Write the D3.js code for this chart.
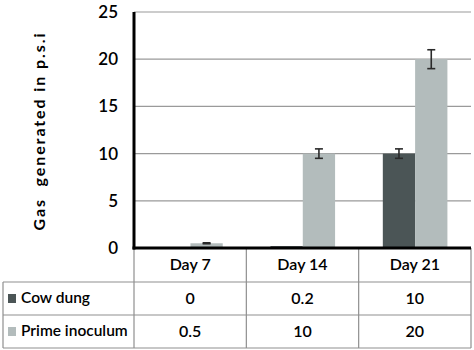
<!DOCTYPE html>
<html>
<head>
<meta charset="utf-8">
<script src="https://cdn.jsdelivr.net/npm/d3@7"></script>
<style>
  html, body { margin: 0; padding: 0; background: #fff; }
  svg { display: block; }
  text { font-family: Lato, "Open Sans", sans-serif; fill: #000; }
</style>
</head>
<body>
<svg id="chart" width="474" height="350"></svg>
<script>
// Gas generated per sampling day, two inocula
const days = ["Day 7", "Day 14", "Day 21"];
const seriesNames = ["Cow dung", "Prime inoculum"];
const cowDung = [0, 0.2, 10];
const primeInoculum = [0.5, 10, 20];
const cowDungErr = [0, 0.05, 0.5];
const primeInoculumErr = [0.05, 0.5, 1];
const yTicks = [0, 5, 10, 15, 20, 25];
const yTitle = "Gas  generated in p.s.i";

const colors = { "Cow dung": "#4b5556", "Prime inoculum": "#b3bcbc" };

const svg = d3.select("#chart");

const plotLeft = 134, plotRight = 471, plotTop = 12, plotBase = 248;
const rowH = [248, 282, 315, 348];
const tableLeft = 3;
const cellFont = "16px";

const x = d3.scaleBand().domain(days).range([plotLeft, plotRight]).padding(0);
const x1 = d3.scaleBand().domain(seriesNames)
  .range([x.bandwidth() * 0.215, x.bandwidth() * 0.79]).padding(0);
const y = d3.scaleLinear().domain([0, 25]).range([plotBase, plotTop]);

// horizontal gridlines
svg.append("g")
  .selectAll("line")
  .data(yTicks.filter(d => d > 0))
  .join("line")
  .attr("x1", plotLeft).attr("x2", plotRight)
  .attr("y1", d => y(d)).attr("y2", d => y(d))
  .attr("stroke", "#9a9a9a").attr("stroke-width", 1.2);

// y tick labels
const yAxis = d3.axisLeft(y).tickValues(yTicks).tickSize(0).tickPadding(16);
const gy = svg.append("g").attr("transform", `translate(${plotLeft},0)`).call(yAxis);
gy.select(".domain").remove();
gy.selectAll("text")
  .style("font-family", "Lato, sans-serif")
  .style("font-size", "17px")
  .style("font-weight", "600")
  .attr("fill", "#000");

// bars
const rows = seriesNames.map((name, i) => ({
  name,
  values: i === 0 ? cowDung : primeInoculum,
  errs: i === 0 ? cowDungErr : primeInoculumErr
}));

const barData = [];
rows.forEach(r => days.forEach((d, j) => barData.push({
  series: r.name, day: d, value: r.values[j], err: r.errs[j]
})));

svg.append("g")
  .selectAll("rect")
  .data(barData)
  .join("rect")
  .attr("x", d => x(d.day) + x1(d.series))
  .attr("width", x1.bandwidth())
  .attr("y", d => y(d.value))
  .attr("height", d => plotBase - y(d.value))
  .attr("fill", d => colors[d.series]);

// error bars
const eg = svg.append("g").attr("stroke", "#2a2a2a").attr("stroke-width", 1.6);
barData.filter(d => d.value > 0.3).forEach(d => {
  const cx = x(d.day) + x1(d.series) + x1.bandwidth() / 2;
  const y0 = y(d.value + d.err), y1v = y(d.value - d.err);
  eg.append("line").attr("x1", cx).attr("x2", cx).attr("y1", y0).attr("y2", y1v);
  eg.append("line").attr("x1", cx - 4).attr("x2", cx + 4).attr("y1", y0).attr("y2", y0);
  eg.append("line").attr("x1", cx - 4).attr("x2", cx + 4).attr("y1", y1v).attr("y2", y1v);
});

// data table grid
const tg = svg.append("g").attr("stroke", "#8f8f8f").attr("stroke-width", 1.2).attr("fill", "none");
[rowH[1], rowH[2], rowH[3]].forEach(yy => {
  tg.append("line").attr("x1", tableLeft).attr("x2", plotRight).attr("y1", yy).attr("y2", yy);
});
tg.append("line").attr("x1", tableLeft).attr("x2", tableLeft).attr("y1", rowH[1]).attr("y2", rowH[3]);
days.forEach(d => {
  tg.append("line").attr("x1", x(d)).attr("x2", x(d)).attr("y1", rowH[0]).attr("y2", rowH[3]);
});
tg.append("line").attr("x1", plotRight).attr("x2", plotRight).attr("y1", rowH[0]).attr("y2", rowH[3]);

// axis lines (thick)
svg.append("line").attr("x1", plotLeft).attr("x2", plotLeft).attr("y1", plotTop).attr("y2", plotBase + 1.5)
  .attr("stroke", "#000").attr("stroke-width", 3);
svg.append("line").attr("x1", plotLeft - 1.5).attr("x2", plotRight).attr("y1", plotBase).attr("y2", plotBase)
  .attr("stroke", "#000").attr("stroke-width", 3);

// header row
svg.append("g").selectAll("text")
  .data(days)
  .join("text")
  .attr("x", d => x(d) + x.bandwidth() / 2)
  .attr("y", (rowH[0] + rowH[1]) / 2 + 1)
  .attr("text-anchor", "middle")
  .attr("dominant-baseline", "middle")
  .style("font-size", cellFont)
  .style("font-weight", "600")
  .text(d => d);

// series rows
rows.forEach((r, i) => {
  const cy = (rowH[i + 1] + rowH[i + 2]) / 2;
  svg.append("rect")
    .attr("x", 8).attr("y", cy - 4.5).attr("width", 8).attr("height", 9)
    .attr("fill", colors[r.name]);
  svg.append("text")
    .attr("x", 21).attr("y", cy + 1)
    .attr("dominant-baseline", "middle")
    .style("font-size", "15.5px")
    .style("font-weight", "600")
    .text(r.name);
  svg.append("g").selectAll("text")
    .data(r.values)
    .join("text")
    .attr("x", (d, j) => x(days[j]) + x.bandwidth() / 2)
    .attr("y", cy + 1)
    .attr("text-anchor", "middle")
    .attr("dominant-baseline", "middle")
    .style("font-size", cellFont)
    .style("font-weight", "600")
    .text(d => d);
});

// y axis title
svg.append("text")
  .attr("transform", "translate(41,132) rotate(-90)")
  .attr("text-anchor", "middle")
  .attr("dominant-baseline", "middle")
  .attr("textLength", 197)
  .attr("lengthAdjust", "spacing")
  .style("font-size", "16px")
  .style("font-weight", "bold")
  .style("white-space", "pre")
  .text(yTitle);
</script>
</body>
</html>
